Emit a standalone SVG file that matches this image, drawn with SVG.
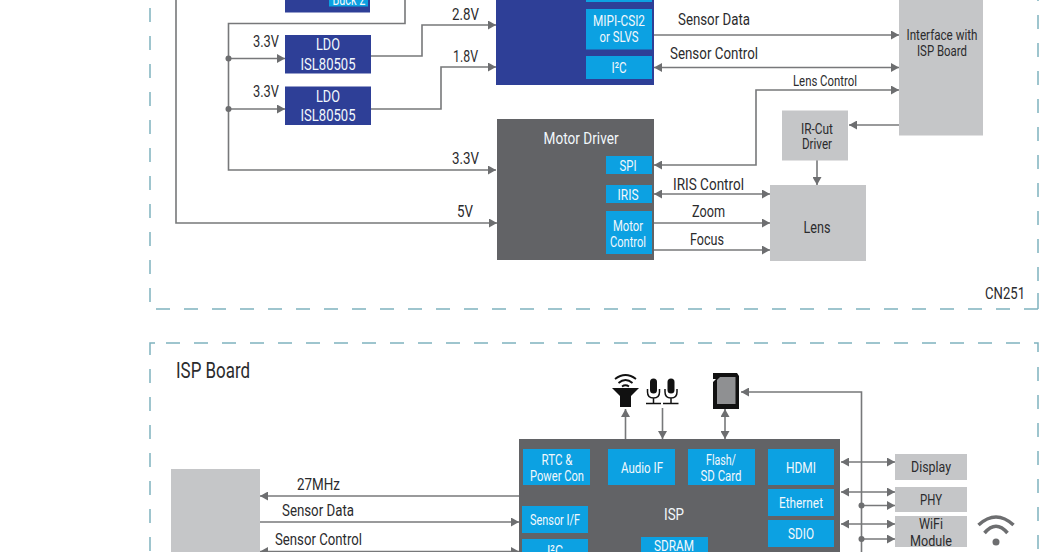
<svg xmlns="http://www.w3.org/2000/svg" width="1051" height="552" viewBox="0 0 1051 552">
<style>
text{font-family:Roboto,"Liberation Sans",sans-serif;font-size:16.5px;fill:#2b2b2d;text-anchor:middle}
.w{fill:#f2f8fc}.s{font-size:14px}.m{font-size:15px}
.blue{fill:#2e3f97}.sky{fill:#0ca1e2}.dark{fill:#626366}.light{fill:#c5c6c8}
.c{fill:none;stroke:#77787a;stroke-width:1.6}
.a{marker-end:url(#ar)}.b{marker-start:url(#ar);marker-end:url(#ar)}
.d{fill:none;stroke:#7fb2bf;stroke-width:1.5;stroke-dasharray:14 14}
.i{fill:#111}
</style>
<defs><marker id="ar" markerUnits="userSpaceOnUse" markerWidth="8" markerHeight="9" refX="8" refY="4.5" orient="auto-start-reverse"><path d="M0,0L8,4.5L0,9z" fill="#6d6e70"/></marker></defs>
<rect width="1051" height="552" fill="#fff"/>
<g id="frames">
<path class="d" d="M150,-20V302"/><path class="d" d="M1038,309H156"/><path class="d" d="M1038,309V-20" style="stroke-dasharray:16 12 14 14 14 14 14 14 14 14 14 14 14 14 14 14 14 14 14 14 14 14 14 14 14 14"/>
<path class="d" d="M150,355V343H155" style="stroke-dasharray:none"/><path class="d" d="M150,369V552"/><path class="d" d="M166,343H1030"/>
<path class="d" d="M1034,343H1038V352" style="stroke-dasharray:none"/><path class="d" d="M1038,367V552"/>
<text x="1005" y="299" textLength="40" lengthAdjust="spacingAndGlyphs" style="font-size:17px">CN251</text>
<text x="213" y="378" textLength="74" lengthAdjust="spacingAndGlyphs" style="font-size:22px">ISP Board</text>
</g>
<g id="connectors">
<path class="c" d="M405,0V23.5H228.500V170H496" marker-end="url(#ar)"/>
<path class="c a" d="M228.500,58.500H285"/><path class="c a" d="M228.500,109H285"/>
<circle cx="228.500" cy="58.500" r="3" fill="#6d6e70"/><circle cx="228.500" cy="109" r="3" fill="#6d6e70"/>
<path class="c a" d="M176,0V223H497"/>
<path class="c a" d="M371,56H422V25H496"/><path class="c a" d="M371,109H441V67H496"/>
<path class="c a" d="M654,35H899"/><path class="c b" d="M654,67.500H899"/>
<path class="c b" d="M654,165H756V90H899"/>
<path class="c a" d="M899,125H849"/><path class="c a" d="M817,160V185"/>
<path class="c b" d="M654,194H770"/><path class="c a" d="M654,223H770"/><path class="c a" d="M654,250H770"/>
<path class="c a" d="M519,496H260"/><path class="c a" d="M260,522H519"/><path class="c b" d="M260,551.500H519"/>
<path class="c a" d="M625.500,439V409"/><path class="c a" d="M662.500,408V439"/><path class="c b" d="M725,409V439"/>
<path class="c a" d="M861.500,552V392H741"/>
<path class="c b" d="M841,462H895"/><path class="c b" d="M841,492H895"/><path class="c b" d="M841,524H895"/>
<path class="c a" d="M861.500,505.500H895"/><path class="c a" d="M861.500,539H895"/>
<circle cx="861.500" cy="505.500" r="3" fill="#6d6e70"/><circle cx="861.500" cy="539" r="3" fill="#6d6e70"/>
</g>
<g id="buck"><rect class="blue" x="285" y="-10" width="85" height="22.500"/><rect class="sky" x="329" y="-10" width="39" height="16.500"/><text class="w" x="349" y="5" textLength="33" lengthAdjust="spacingAndGlyphs">Buck 2</text></g>
<g id="ldo1"><rect class="blue" x="285" y="35" width="86" height="38.500"/><text class="w" x="328" y="50" textLength="24" lengthAdjust="spacingAndGlyphs">LDO</text><text class="w" x="328" y="70" textLength="55" lengthAdjust="spacingAndGlyphs">ISL80505</text></g>
<g id="ldo2"><rect class="blue" x="285" y="86.500" width="86" height="38.500"/><text class="w" x="328" y="102" textLength="24" lengthAdjust="spacingAndGlyphs">LDO</text><text class="w" x="328" y="121" textLength="55" lengthAdjust="spacingAndGlyphs">ISL80505</text></g>
<g id="labels-power">
<text x="266" y="47" textLength="26" lengthAdjust="spacingAndGlyphs">3.3V</text><text x="266" y="97" textLength="26" lengthAdjust="spacingAndGlyphs">3.3V</text>
<text x="465.500" y="20" textLength="27" lengthAdjust="spacingAndGlyphs">2.8V</text><text x="465.500" y="62" textLength="25" lengthAdjust="spacingAndGlyphs">1.8V</text>
<text x="465.500" y="164" textLength="27" lengthAdjust="spacingAndGlyphs">3.3V</text><text x="465" y="217" textLength="16" lengthAdjust="spacingAndGlyphs">5V</text>
</g>
<g id="sensor"><rect class="blue" x="496" y="-10" width="158" height="95"/>
<rect class="sky" x="586" y="-10" width="66" height="12"/>
<rect class="sky" x="586" y="9" width="66" height="40.500"/><text class="w m" x="619" y="26" textLength="52" lengthAdjust="spacingAndGlyphs">MIPI-CSI2</text><text class="w m" x="619" y="42" textLength="39" lengthAdjust="spacingAndGlyphs">or SLVS</text>
<rect class="sky" x="586" y="56" width="66" height="23"/><text class="w m" x="619" y="73" textLength="15" lengthAdjust="spacingAndGlyphs">I²C</text></g>
<g id="motor"><rect class="dark" x="497" y="119" width="157" height="141"/><text class="w" x="581" y="144" textLength="75" lengthAdjust="spacingAndGlyphs">Motor Driver</text>
<rect class="sky" x="606" y="156" width="46" height="18"/><text class="w m" x="628" y="171" textLength="17" lengthAdjust="spacingAndGlyphs">SPI</text>
<rect class="sky" x="606" y="185" width="46" height="18"/><text class="w m" x="628" y="200" textLength="21" lengthAdjust="spacingAndGlyphs">IRIS</text>
<rect class="sky" x="606" y="211" width="46" height="43"/><text class="w m" x="628" y="231" textLength="30" lengthAdjust="spacingAndGlyphs">Motor</text><text class="w m" x="628" y="247" textLength="36" lengthAdjust="spacingAndGlyphs">Control</text></g>
<g id="interface"><rect class="light" x="899" y="-10" width="84" height="145.500"/><text class="m" x="942" y="40" textLength="71" lengthAdjust="spacingAndGlyphs">Interface with</text><text class="m" x="942" y="56" textLength="50" lengthAdjust="spacingAndGlyphs">ISP Board</text></g>
<g id="ircut"><rect class="light" x="782" y="110.500" width="66" height="50"/><text class="s" x="817" y="134" textLength="32" lengthAdjust="spacingAndGlyphs">IR-Cut</text><text class="s" x="817" y="149" textLength="30" lengthAdjust="spacingAndGlyphs">Driver</text></g>
<g id="lens"><rect class="light" x="770" y="185" width="96" height="76"/><text x="817" y="233" textLength="27" lengthAdjust="spacingAndGlyphs" style="font-size:17px">Lens</text></g>
<g id="labels-signals">
<text x="714" y="25" textLength="72" lengthAdjust="spacingAndGlyphs">Sensor Data</text><text x="714" y="58.500" textLength="88" lengthAdjust="spacingAndGlyphs">Sensor Control</text>
<text class="s" x="825" y="86" textLength="64" lengthAdjust="spacingAndGlyphs">Lens Control</text>
<text x="708.500" y="190" textLength="71" lengthAdjust="spacingAndGlyphs">IRIS Control</text><text x="708.500" y="217" textLength="33" lengthAdjust="spacingAndGlyphs">Zoom</text><text x="707" y="245" textLength="34" lengthAdjust="spacingAndGlyphs">Focus</text>
<text x="318.500" y="490" textLength="43" lengthAdjust="spacingAndGlyphs">27MHz</text><text x="318" y="516" textLength="72" lengthAdjust="spacingAndGlyphs">Sensor Data</text><text x="318.500" y="545" textLength="87" lengthAdjust="spacingAndGlyphs">Sensor Control</text>
</g>
<g id="isp-interface"><rect class="light" x="171" y="469" width="89" height="90"/></g>
<g id="isp"><rect class="dark" x="519" y="439" width="321" height="120"/>
<text class="w" x="674" y="520" textLength="20" lengthAdjust="spacingAndGlyphs" style="font-size:17px">ISP</text>
<rect class="sky" x="523" y="449" width="67" height="36"/><text class="m w" x="557" y="465" textLength="31" lengthAdjust="spacingAndGlyphs">RTC &amp;</text><text class="m w" x="557" y="481" textLength="54" lengthAdjust="spacingAndGlyphs">Power Con</text>
<rect class="sky" x="608" y="449" width="67" height="36"/><text class="m w" x="642" y="473" textLength="42" lengthAdjust="spacingAndGlyphs">Audio IF</text>
<rect class="sky" x="688" y="449" width="67" height="36"/><text class="m w" x="721" y="465" textLength="30" lengthAdjust="spacingAndGlyphs">Flash/</text><text class="m w" x="721" y="481" textLength="41" lengthAdjust="spacingAndGlyphs">SD Card</text>
<rect class="sky" x="768" y="449" width="66" height="36"/><text class="m w" x="801" y="473" textLength="30" lengthAdjust="spacingAndGlyphs">HDMI</text>
<rect class="sky" x="768" y="489" width="66" height="27"/><text class="m w" x="801" y="508" textLength="44" lengthAdjust="spacingAndGlyphs">Ethernet</text>
<rect class="sky" x="768" y="520" width="66" height="27"/><text class="m w" x="801" y="539" textLength="26" lengthAdjust="spacingAndGlyphs">SDIO</text>
<rect class="sky" x="522" y="506" width="66" height="27"/><text class="m w" x="555" y="525" textLength="50" lengthAdjust="spacingAndGlyphs">Sensor I/F</text>
<rect class="sky" x="522" y="539" width="66" height="20"/><text class="m w" x="555" y="556" textLength="16" lengthAdjust="spacingAndGlyphs">I²C</text>
<rect class="sky" x="641" y="537" width="67" height="22"/><text class="m w" x="674" y="551" textLength="40" lengthAdjust="spacingAndGlyphs">SDRAM</text></g>
<g id="display"><rect class="light" x="895" y="454" width="72" height="26"/><text class="m" x="931" y="472" textLength="40" lengthAdjust="spacingAndGlyphs">Display</text></g>
<g id="phy"><rect class="light" x="895" y="487" width="72" height="25"/><text class="m" x="931" y="505" textLength="22" lengthAdjust="spacingAndGlyphs">PHY</text></g>
<g id="wifi-module"><rect class="light" x="895" y="516" width="72" height="31"/><text class="m" x="931" y="529" textLength="24" lengthAdjust="spacingAndGlyphs">WiFi</text><text class="m" x="931" y="546" textLength="42" lengthAdjust="spacingAndGlyphs">Module</text></g>
<g id="wifi-icon" fill="none" stroke="#6d6e70" stroke-width="3.500"><path d="M978.500,525Q996,509 1013.500,525"/><path d="M984.500,533Q996,519.500 1007.500,533"/><circle cx="996" cy="542" r="3.500" fill="#6d6e70" stroke="none"/></g>
<g id="speaker"><path class="i" d="M612,388H639L631,396V407H620V396z"/><g fill="none" stroke="#111" stroke-width="1.800"><path d="M615,379Q625.500,371 636,379"/><path d="M618.500,383Q625.500,377 632.500,383"/><path d="M622,386.500Q625.500,384 629,386.500"/></g></g>
<g id="mics" fill="none" stroke="#111" stroke-width="1.500">
<rect x="650" y="378.500" width="7" height="15" rx="3.500" fill="#111" stroke="none"/><path d="M647.500,389V392Q647.500,398 653.500,398Q659.500,398 659.500,392V389M653.500,398V403M646,403.500H661"/>
<rect x="667.500" y="378.500" width="7" height="15" rx="3.500" fill="#111" stroke="none"/><path d="M665,389V392Q665,398 671,398Q677,398 677,392V389M671,398V403M663,403.500H678.500"/>
</g>
<g id="sdcard"><path class="i" d="M713,373H737L739,376V409H713V382L716,379H713z"/><path d="M717,380L720,377H735.500V404H717z" fill="#8f9092"/></g>
</svg>
